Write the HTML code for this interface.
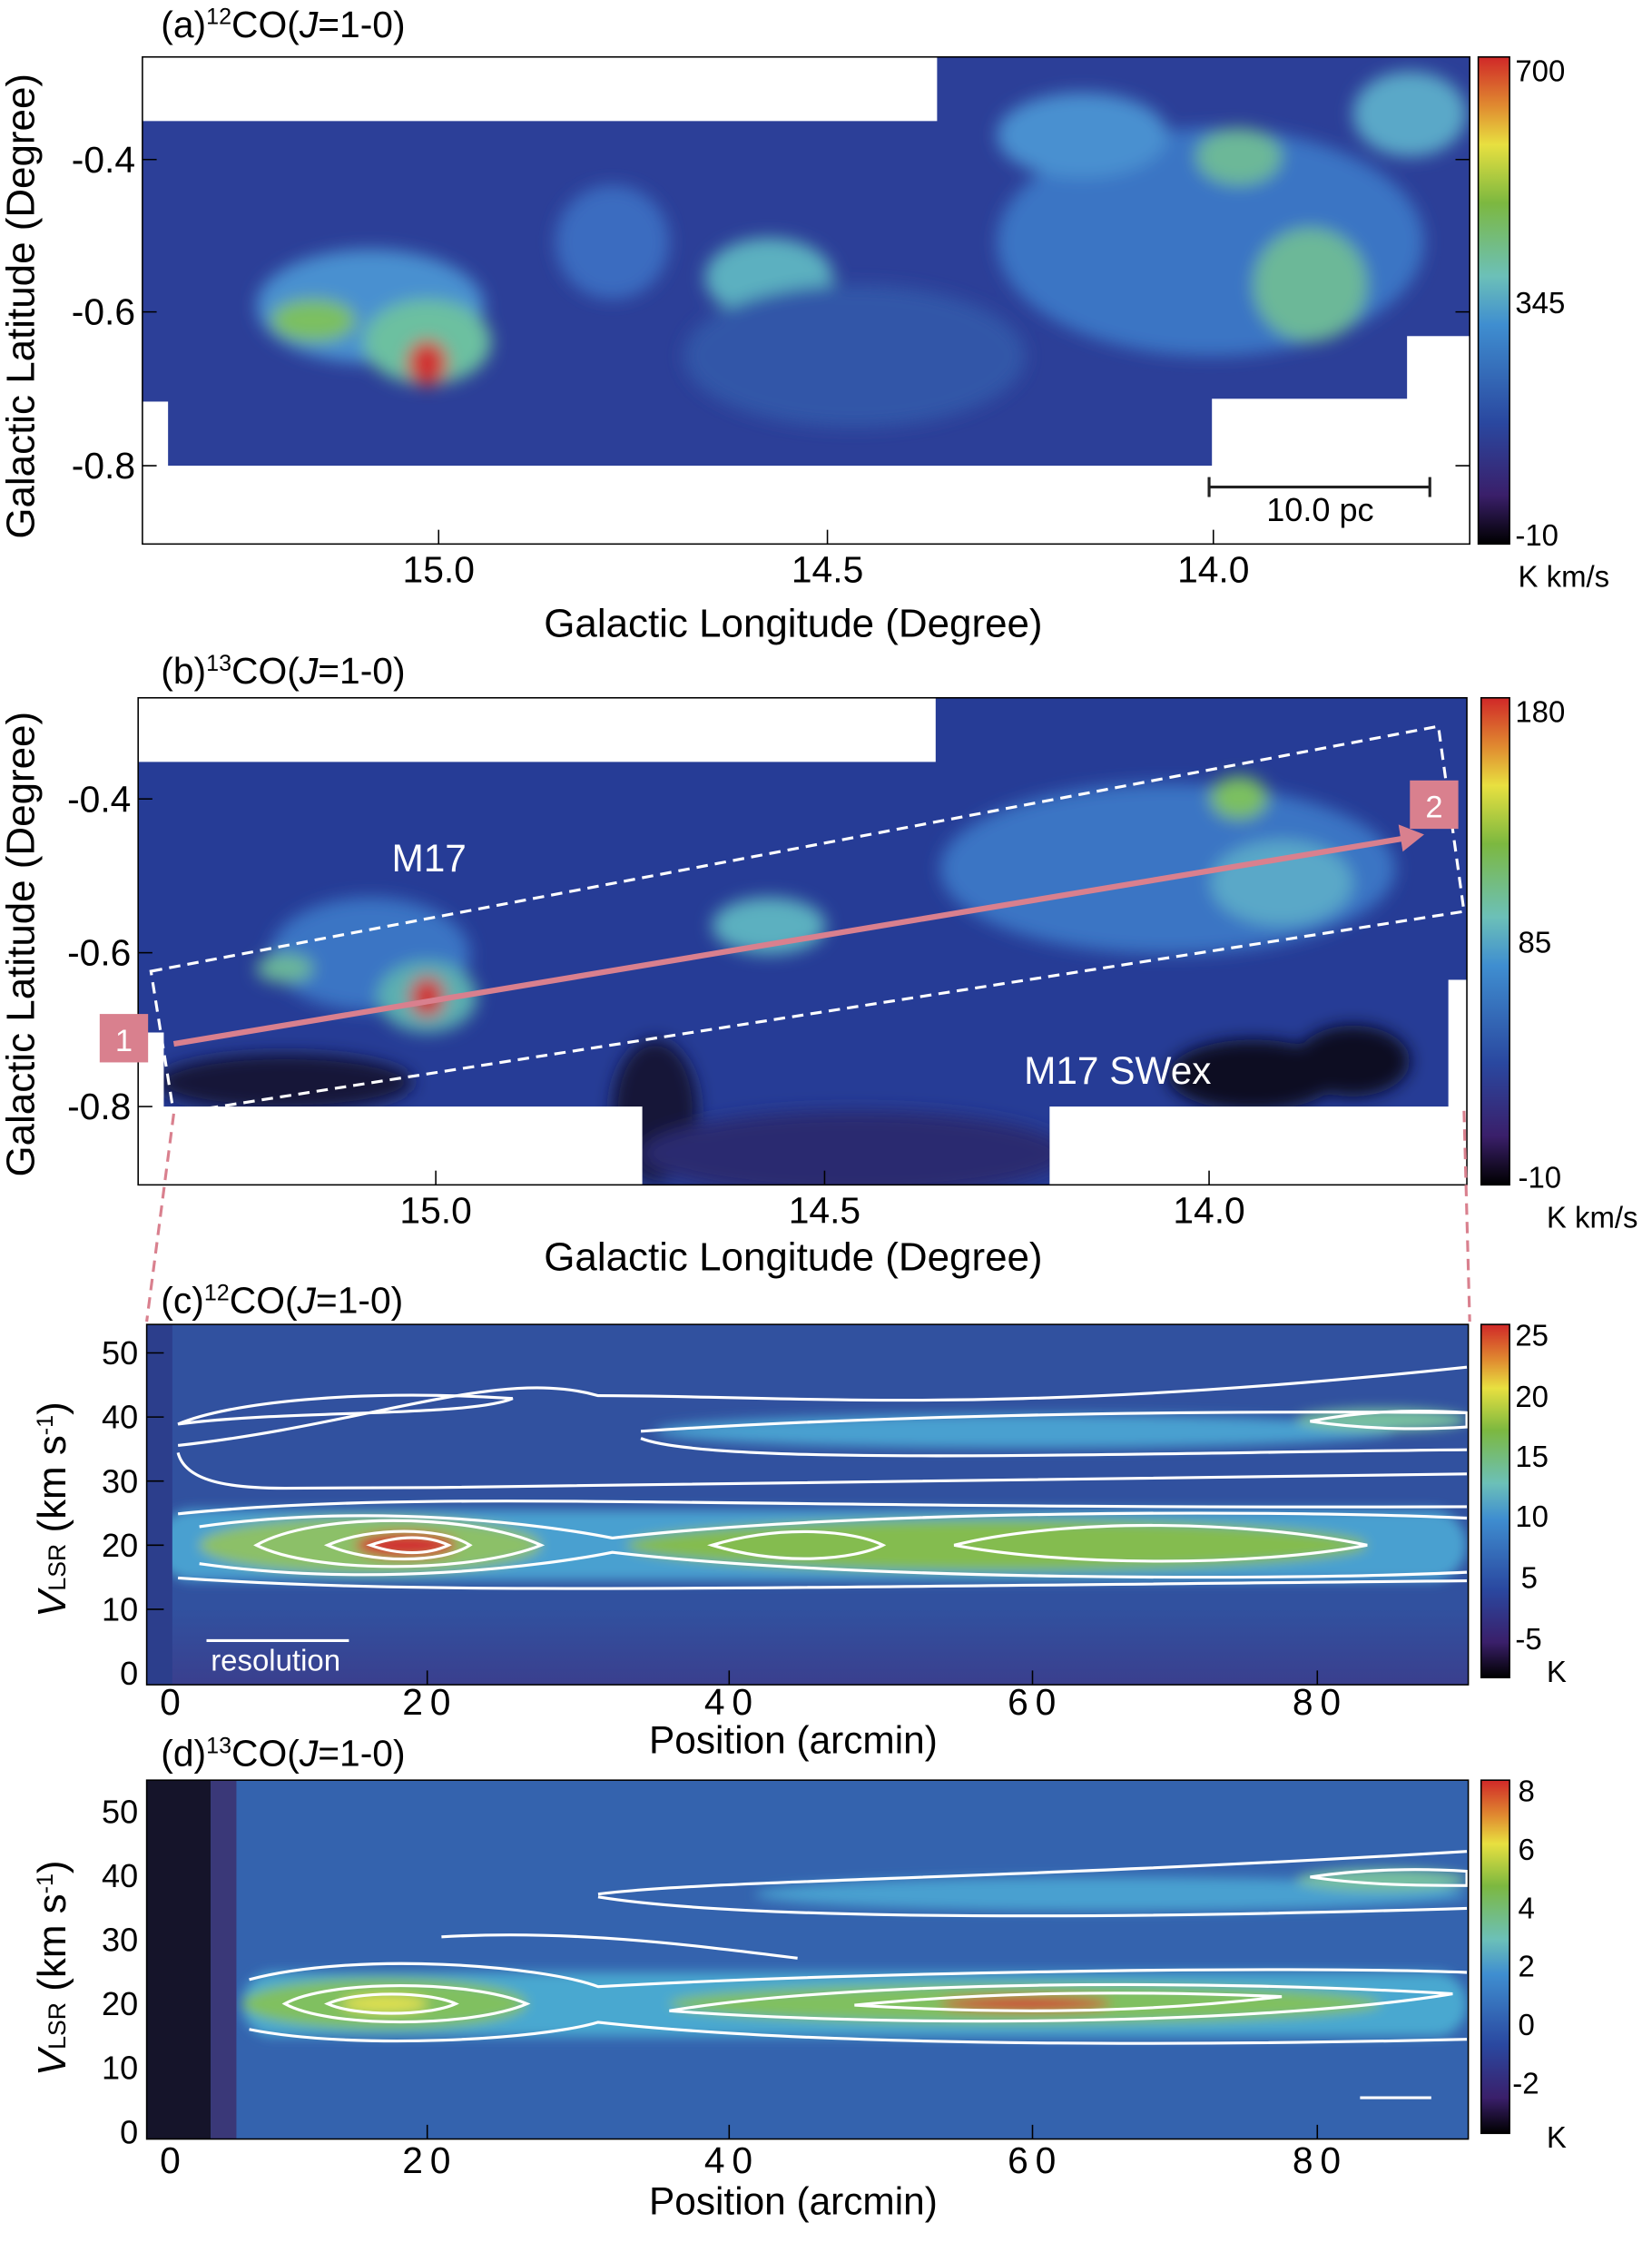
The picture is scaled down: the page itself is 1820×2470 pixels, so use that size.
<!DOCTYPE html>
<html><head><meta charset="utf-8"><style>
html,body{margin:0;padding:0;background:#fff}
svg{display:block}
text{font-family:"Liberation Sans",Arial,sans-serif;fill:#000}
</style></head><body>
<svg width="1820" height="2470" viewBox="0 0 1160 1574.3" preserveAspectRatio="none" xmlns="http://www.w3.org/2000/svg">
<defs>
<linearGradient id="cb" x1="0" y1="1" x2="0" y2="0">
<stop offset="0" stop-color="#000"/><stop offset="0.1" stop-color="#3a1f6a"/><stop offset="0.25" stop-color="#2a48a0"/><stop offset="0.45" stop-color="#3f8ed0"/><stop offset="0.55" stop-color="#6cc0b8"/><stop offset="0.7" stop-color="#7cb840"/><stop offset="0.82" stop-color="#e8e040"/><stop offset="0.9" stop-color="#e08a30"/><stop offset="1" stop-color="#d02828"/>
</linearGradient>
<linearGradient id="cbot" x1="0" y1="0" x2="0" y2="1"><stop offset="0" stop-color="#31519f"/><stop offset="1" stop-color="#3a3f8e"/></linearGradient>
<filter id="bl" x="-20%" y="-50%" width="140%" height="200%"><feGaussianBlur stdDeviation="6"/></filter>
<filter id="bl2" x="-20%" y="-100%" width="140%" height="300%"><feGaussianBlur stdDeviation="4"/></filter>
<clipPath id="ca"><rect x="100" y="40" width="932" height="342"/></clipPath>
<clipPath id="cbp"><rect x="97" y="490" width="933" height="342"/></clipPath>
<clipPath id="cc"><rect x="103" y="930" width="928" height="253"/></clipPath>
<clipPath id="cd"><rect x="103" y="1250" width="928" height="252"/></clipPath>
</defs>

<!-- Panel a -->
<text x="113" y="26" font-size="26">(a)<tspan font-size="16" dy="-9">12</tspan><tspan dy="9">CO(</tspan><tspan font-style="italic">J</tspan>=1-0)</text>
<g clip-path="url(#ca)">
<rect x="100" y="40" width="932" height="342" fill="#2c3f98"/>
<g filter="url(#bl)">
<ellipse cx="260" cy="215" rx="80" ry="40" fill="#4a90d0"/>
<ellipse cx="300" cy="240" rx="45" ry="30" fill="#6cc0a0"/>
<ellipse cx="220" cy="225" rx="30" ry="15" fill="#7cc060"/>
<ellipse cx="300" cy="255" rx="14" ry="16" fill="#d03030"/>
<ellipse cx="540" cy="195" rx="45" ry="28" fill="#5cb0c0"/>
<ellipse cx="430" cy="170" rx="40" ry="40" fill="#3a6cc0"/>
<ellipse cx="850" cy="170" rx="150" ry="80" fill="#3a74c4"/>
<ellipse cx="920" cy="200" rx="40" ry="40" fill="#6cb898"/>
<ellipse cx="870" cy="110" rx="30" ry="20" fill="#6cb898"/>
<ellipse cx="760" cy="95" rx="60" ry="30" fill="#4a90d0"/>
<ellipse cx="990" cy="80" rx="40" ry="30" fill="#5aa8c8"/>
<ellipse cx="600" cy="250" rx="120" ry="50" fill="#3356a8"/>
</g>
<rect x="100" y="40" width="558" height="45" fill="#fff"/>
<rect x="100" y="327" width="932" height="60" fill="#fff"/>
<rect x="851" y="280" width="190" height="60" fill="#fff"/>
<rect x="988" y="236" width="50" height="50" fill="#fff"/>
<rect x="100" y="282" width="18" height="50" fill="#fff"/>
</g>
<rect x="100" y="40" width="932" height="342" fill="none" stroke="#000" stroke-width="1"/>
<g stroke="#000"><line x1="308" y1="382" x2="308" y2="372"/><line x1="581" y1="382" x2="581" y2="372"/><line x1="852" y1="382" x2="852" y2="372"/>
<line x1="100" y1="112" x2="110" y2="112"/><line x1="100" y1="219" x2="110" y2="219"/><line x1="100" y1="327" x2="110" y2="327"/>
<line x1="1032" y1="112" x2="1022" y2="112"/><line x1="1032" y1="219" x2="1022" y2="219"/><line x1="1032" y1="327" x2="1022" y2="327"/></g>
<line x1="849" y1="342" x2="1004" y2="342" stroke="#222" stroke-width="2"/><line x1="849" y1="335" x2="849" y2="349" stroke="#222" stroke-width="2"/><line x1="1004" y1="335" x2="1004" y2="349" stroke="#222" stroke-width="2"/>
<text x="927" y="366" font-size="23" text-anchor="middle">10.0 pc</text>
<g font-size="26" text-anchor="middle"><text x="308" y="409">15.0</text><text x="581" y="409">14.5</text><text x="852" y="409">14.0</text></g>
<g font-size="26" text-anchor="end"><text x="95" y="121">-0.4</text><text x="95" y="228">-0.6</text><text x="95" y="336">-0.8</text></g>
<text x="557" y="447" font-size="28" text-anchor="middle">Galactic Longitude (Degree)</text>
<text transform="translate(24,215) rotate(-90)" font-size="28" text-anchor="middle">Galactic Latitude (Degree)</text>
<rect x="1038" y="40" width="22" height="342" fill="url(#cb)" stroke="#000"/>
<g font-size="21"><text x="1064" y="57">700</text><text x="1064" y="220">345</text><text x="1064" y="383">-10</text><text x="1066" y="412">K km/s</text></g>

<!-- Panel b -->
<text x="113" y="480" font-size="26">(b)<tspan font-size="16" dy="-9">13</tspan><tspan dy="9">CO(</tspan><tspan font-style="italic">J</tspan>=1-0)</text>
<g clip-path="url(#cbp)">
<rect x="97" y="490" width="933" height="342" fill="#263c96"/>
<g filter="url(#bl)">
<ellipse cx="260" cy="670" rx="70" ry="40" fill="#3a74c4"/>
<ellipse cx="300" cy="700" rx="35" ry="25" fill="#5cb0b0"/>
<ellipse cx="300" cy="700" rx="12" ry="14" fill="#d03030"/>
<ellipse cx="200" cy="680" rx="20" ry="10" fill="#6cb898"/>
<ellipse cx="540" cy="650" rx="40" ry="20" fill="#5cb0c0"/>
<ellipse cx="820" cy="610" rx="160" ry="60" fill="#3a74c4"/>
<ellipse cx="900" cy="620" rx="50" ry="30" fill="#5aa8c8"/>
<ellipse cx="870" cy="560" rx="20" ry="15" fill="#7cc060"/>
<ellipse cx="880" cy="755" rx="60" ry="25" fill="#0a0a20"/>
<ellipse cx="950" cy="745" rx="40" ry="25" fill="#0a0a20"/>
<ellipse cx="460" cy="780" rx="30" ry="50" fill="#181838"/>
<ellipse cx="600" cy="810" rx="150" ry="30" fill="#2a2a70"/>
<ellipse cx="200" cy="760" rx="90" ry="20" fill="#181838"/>
</g>
<rect x="97" y="490" width="560" height="45" fill="#fff"/>
<rect x="97" y="777" width="354" height="60" fill="#fff"/>
<rect x="737" y="777" width="300" height="60" fill="#fff"/>
<rect x="1017" y="688" width="20" height="95" fill="#fff"/>
<rect x="97" y="725" width="18" height="55" fill="#fff"/>
</g>
<rect x="97" y="490" width="933" height="342" fill="none" stroke="#000"/>
<g stroke="#000"><line x1="306" y1="832" x2="306" y2="822"/><line x1="579" y1="832" x2="579" y2="822"/><line x1="849" y1="832" x2="849" y2="822"/>
<line x1="97" y1="561" x2="107" y2="561"/><line x1="97" y1="669" x2="107" y2="669"/><line x1="97" y1="777" x2="107" y2="777"/></g>
<g fill="none" stroke="#fff" stroke-width="2" stroke-dasharray="8,5"><polygon points="106,682 1010,510 1028,640 122,782"/></g>
<line x1="122" y1="733" x2="990" y2="588" stroke="#d9808e" stroke-width="4"/>
<polygon points="1000,586 982,579 985,598" fill="#d9808e"/>
<rect x="70" y="712" width="34" height="34" fill="#d9808e"/><text x="87" y="738" font-size="22" text-anchor="middle" style="fill:#fff">1</text>
<rect x="990" y="548" width="34" height="34" fill="#d9808e"/><text x="1007" y="574" font-size="22" text-anchor="middle" style="fill:#fff">2</text>
<text x="275" y="612" font-size="27" style="fill:#fff">M17</text>
<text x="719" y="761" font-size="27" style="fill:#fff">M17 SWex</text>
<g font-size="26" text-anchor="middle"><text x="306" y="859">15.0</text><text x="579" y="859">14.5</text><text x="849" y="859">14.0</text></g>
<g font-size="26" text-anchor="end"><text x="92" y="570">-0.4</text><text x="92" y="678">-0.6</text><text x="92" y="786">-0.8</text></g>
<text x="557" y="892" font-size="28" text-anchor="middle">Galactic Longitude (Degree)</text>
<text transform="translate(24,663) rotate(-90)" font-size="28" text-anchor="middle">Galactic Latitude (Degree)</text>
<rect x="1040" y="490" width="20" height="342" fill="url(#cb)" stroke="#000"/>
<g font-size="21"><text x="1064" y="507">180</text><text x="1066" y="669">85</text><text x="1066" y="834">-10</text><text x="1086" y="862">K km/s</text></g>
<line x1="122" y1="782" x2="103" y2="928" stroke="#d9808e" stroke-width="2" stroke-dasharray="8,5"/>
<line x1="1028" y1="780" x2="1032" y2="928" stroke="#d9808e" stroke-width="2" stroke-dasharray="8,5"/>

<!-- Panel c -->
<text x="113" y="922" font-size="26">(c)<tspan font-size="16" dy="-9">12</tspan><tspan dy="9">CO(</tspan><tspan font-style="italic">J</tspan>=1-0)</text>
<g clip-path="url(#cc)">
<rect x="103" y="930" width="928" height="253" fill="#31519f"/>
<rect x="103" y="1130" width="928" height="53" fill="url(#cbot)"/>
<g filter="url(#bl2)">
<rect x="110" y="1060" width="920" height="50" rx="25" fill="#4aa0d0"/>
<ellipse cx="260" cy="1085" rx="120" ry="20" fill="#8cc068"/>
<ellipse cx="285" cy="1085" rx="35" ry="9" fill="#d03030"/>
<ellipse cx="700" cy="1085" rx="260" ry="18" fill="#84bc50"/>
<ellipse cx="720" cy="1005" rx="260" ry="12" fill="#4aa0d0"/>
<ellipse cx="970" cy="997" rx="60" ry="8" fill="#78c0a0"/>
</g>
<rect x="103" y="930" width="18" height="253" fill="#2c3e8c"/>
<g fill="none" stroke="#fff" stroke-width="2">
<path d="M125,1063 C300,1045 500,1060 1030,1058"/>
<path d="M125,1108 C300,1120 500,1115 1030,1110"/>
<path d="M140,1072 C260,1055 380,1070 430,1080 C600,1060 900,1060 1030,1066"/>
<path d="M140,1098 C260,1115 380,1100 430,1090 C600,1110 900,1110 1030,1104"/>
<path d="M180,1085 C220,1062 330,1062 380,1085 C330,1105 220,1105 180,1085Z"/>
<path d="M230,1085 C260,1072 310,1072 330,1085 C310,1098 260,1098 230,1085Z"/>
<path d="M260,1085 C280,1078 300,1078 315,1085 C300,1092 280,1092 260,1085Z"/>
<path d="M500,1085 C550,1070 600,1075 620,1085 C600,1095 550,1100 500,1085Z"/>
<path d="M670,1085 C750,1065 880,1068 960,1085 C880,1100 750,1100 670,1085Z"/>
<path d="M125,1000 C160,985 250,975 360,982 C330,995 200,990 125,1000Z"/>
<path d="M125,1015 C260,1000 350,960 420,980 C560,980 700,995 1030,960"/>
<path d="M450,1005 C600,995 800,990 1030,992"/>
<path d="M450,1010 C500,1030 800,1020 1030,1018"/>
<path d="M920,998 C960,990 1000,990 1030,992 L1030,1002 C1000,1004 960,1004 920,998Z"/>
<path d="M125,1020 C130,1040 160,1045 200,1045 C400,1045 500,1040 1030,1035"/>
</g>
<line x1="145" y1="1152" x2="245" y2="1152" stroke="#fff" stroke-width="2"/>
<text x="148" y="1173" font-size="21" style="fill:#fff">resolution</text>
</g>
<rect x="103" y="930" width="928" height="253" fill="none" stroke="#000"/>
<g stroke="#000"><line x1="300" y1="1183" x2="300" y2="1173"/><line x1="512" y1="1183" x2="512" y2="1173"/><line x1="725" y1="1183" x2="725" y2="1173"/><line x1="925" y1="1183" x2="925" y2="1173"/>
<line x1="103" y1="950" x2="115" y2="950"/><line x1="103" y1="995" x2="115" y2="995"/><line x1="103" y1="1040" x2="115" y2="1040"/><line x1="103" y1="1085" x2="115" y2="1085"/><line x1="103" y1="1130" x2="115" y2="1130"/></g>
<g font-size="26" text-anchor="middle" letter-spacing="5"><text x="122" y="1204">0</text><text x="302" y="1204">20</text><text x="514" y="1204">40</text><text x="727" y="1204">60</text><text x="927" y="1204">80</text></g>
<g font-size="23" text-anchor="end"><text x="97" y="958">50</text><text x="97" y="1003">40</text><text x="97" y="1048">30</text><text x="97" y="1093">20</text><text x="97" y="1138">10</text><text x="97" y="1183">0</text></g>
<text x="557" y="1231" font-size="27" text-anchor="middle">Position (arcmin)</text>
<text transform="translate(46,1060) rotate(-90)" font-size="28" text-anchor="middle"><tspan font-style="italic">V</tspan><tspan font-size="17">LSR</tspan> (km s<tspan font-size="16" dy="-9">-1</tspan><tspan dy="9">)</tspan></text>
<rect x="1040" y="930" width="20" height="248" fill="url(#cb)" stroke="#000"/>
<g font-size="21"><text x="1064" y="945">25</text><text x="1064" y="988">20</text><text x="1064" y="1030">15</text><text x="1064" y="1072">10</text><text x="1068" y="1115">5</text><text x="1064" y="1158">-5</text><text x="1086" y="1181">K</text></g>

<!-- Panel d -->
<text x="113" y="1240" font-size="26">(d)<tspan font-size="16" dy="-9">13</tspan><tspan dy="9">CO(</tspan><tspan font-style="italic">J</tspan>=1-0)</text>
<g clip-path="url(#cd)">
<rect x="103" y="1250" width="928" height="252" fill="#3463ae"/>
<g filter="url(#bl2)">
<rect x="170" y="1385" width="860" height="45" rx="22" fill="#4aa8d0"/>
<ellipse cx="270" cy="1407" rx="100" ry="18" fill="#80c060"/>
<ellipse cx="270" cy="1407" rx="30" ry="6" fill="#e0e050"/>
<ellipse cx="720" cy="1407" rx="250" ry="14" fill="#80c060"/>
<ellipse cx="720" cy="1407" rx="60" ry="5" fill="#d03030"/>
<ellipse cx="780" cy="1330" rx="250" ry="12" fill="#4aa0d0"/>
<ellipse cx="970" cy="1320" rx="60" ry="8" fill="#78c0a0"/>
</g>
<rect x="103" y="1250" width="45" height="252" fill="#15142a"/>
<rect x="148" y="1250" width="18" height="252" fill="#3a3878"/>
<g fill="none" stroke="#fff" stroke-width="2">
<path d="M175,1390 C250,1370 380,1380 420,1395 C600,1385 900,1380 1030,1385"/>
<path d="M175,1425 C250,1440 380,1432 420,1420 C600,1440 900,1435 1030,1432"/>
<path d="M200,1407 C230,1390 330,1390 370,1407 C330,1424 230,1424 200,1407Z"/>
<path d="M230,1407 C250,1398 300,1398 320,1407 C300,1416 250,1416 230,1407Z"/>
<path d="M470,1412 C600,1390 850,1390 1020,1400 C900,1420 650,1425 470,1412Z"/>
<path d="M600,1408 C700,1398 800,1398 900,1402 C800,1414 700,1414 600,1408Z"/>
<path d="M420,1330 C500,1320 700,1320 1030,1300"/>
<path d="M420,1332 C500,1345 700,1350 1030,1340"/>
<path d="M920,1318 C960,1312 1000,1312 1030,1314 L1030,1324 C1000,1324 960,1324 920,1318Z"/>
<path d="M310,1360 C400,1355 480,1365 560,1375"/>
<line x1="955" y1="1473" x2="1005" y2="1473"/>
</g>
</g>
<rect x="103" y="1250" width="928" height="252" fill="none" stroke="#000"/>
<g stroke="#000"><line x1="300" y1="1502" x2="300" y2="1492"/><line x1="512" y1="1502" x2="512" y2="1492"/><line x1="725" y1="1502" x2="725" y2="1492"/><line x1="925" y1="1502" x2="925" y2="1492"/></g>
<g font-size="26" text-anchor="middle" letter-spacing="5"><text x="122" y="1526">0</text><text x="302" y="1526">20</text><text x="514" y="1526">40</text><text x="727" y="1526">60</text><text x="927" y="1526">80</text></g>
<g font-size="23" text-anchor="end"><text x="97" y="1280">50</text><text x="97" y="1325">40</text><text x="97" y="1370">30</text><text x="97" y="1415">20</text><text x="97" y="1460">10</text><text x="97" y="1505">0</text></g>
<text x="557" y="1555" font-size="27" text-anchor="middle">Position (arcmin)</text>
<text transform="translate(46,1382) rotate(-90)" font-size="28" text-anchor="middle"><tspan font-style="italic">V</tspan><tspan font-size="17">LSR</tspan> (km s<tspan font-size="16" dy="-9">-1</tspan><tspan dy="9">)</tspan></text>
<rect x="1040" y="1250" width="20" height="248" fill="url(#cb)" stroke="#000"/>
<g font-size="21"><text x="1066" y="1265">8</text><text x="1066" y="1306">6</text><text x="1066" y="1347">4</text><text x="1066" y="1388">2</text><text x="1066" y="1429">0</text><text x="1062" y="1470">-2</text><text x="1086" y="1508">K</text></g>
</svg>
</body></html>
